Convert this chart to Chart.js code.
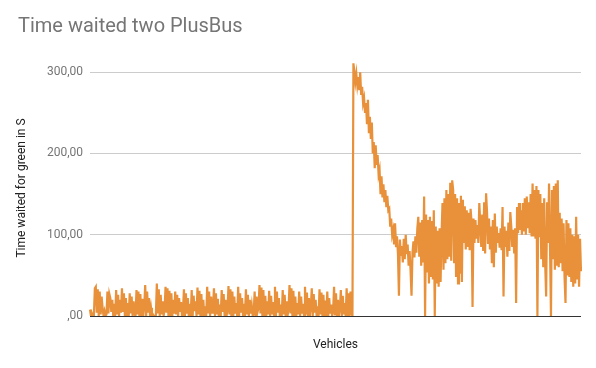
<!DOCTYPE html>
<html lang="en">
<head>
    <meta charset="UTF-8">
    <title>Time waited two PlusBus</title>
    <script src="https://cdn.jsdelivr.net/npm/chart.js@4.4.1/dist/chart.umd.min.js"></script>
    <style>
        body {
            margin: 0;
            background: #fff;
        }
    </style>
</head>
<body>
    <canvas id="waitChart" width="596" height="368"></canvas>

    <script>
        // waiting times (s), in vehicle order
        const lowPhase = [
            8, 0, 3, 0, 0,
            34, 36, 4, 33, 0, 30, 2, 24, 10,
            0, 6, 0, 2,
            30, 3, 27, 22, 5, 20, 0, 15, 0,
            32, 2, 26, 0, 20, 4,
            34, 5, 28, 0, 22, 0, 16, 0,
            28, 3, 24, 0, 18, 2,
            0, 32, 2, 30, 0, 27, 0, 21, 0, 12,
            38, 0, 30, 4, 22, 0, 10,
            0, 2, 0, 0, 1,
            40, 3, 33, 0, 26, 2, 18, 0, 8,
            36, 4, 34, 0, 31, 0, 28, 0, 20, 3,
            30, 2, 26, 0, 22, 5, 17, 0, 6,
            33, 0, 28, 3, 22, 0, 15, 0,
            32, 0, 25, 6, 18, 0,
            35, 2, 31, 0, 27, 0, 20, 0, 12, 0,
            36, 3, 30, 0, 24, 4, 12,
            34, 0, 28, 2, 21, 0, 14, 0,
            32, 5, 27, 0, 20, 0, 8,
            37, 2, 33, 0, 30, 0, 24, 3, 16, 0,
            36, 0, 28, 4, 22, 0, 15, 0,
            33, 2, 26, 0, 20, 3, 13, 0, 2,
            30, 0, 24, 5, 10,
            38, 3, 35, 0, 32, 0, 25, 0, 18, 2,
            31, 0, 25, 2, 17, 0,
            36, 0, 30, 4, 22, 0, 14, 0,
            32, 2, 26, 0, 18, 0, 9,
            38, 3, 34, 0, 31, 0, 24, 0, 16, 2,
            30, 0, 24, 3, 15, 0,
            36, 2, 29, 0, 22, 0, 11,
            34, 0, 27, 4, 20, 0, 12, 0,
            33, 2, 29, 0, 26, 0, 19, 0,
            30, 0, 22, 3, 14, 0, 5,
            36, 2, 28, 0, 20, 0, 9,
            32, 0, 25, 2, 16, 0,
            34, 0, 28, 0, 30, 3, 0
        ];

        const spikeDecay = [
            311, 300, 288, 298, 284, 294, 278, 300, 272, 282,
            262, 268, 250, 262, 236, 266, 225, 245, 218, 238,
            200, 214, 182, 210, 186, 198, 174, 180, 150, 172,
            146, 162, 140, 155, 134, 148, 130, 132, 110, 120,
            100, 106, 88, 114, 86, 98, 76, 25, 94, 74,
            86, 66, 95, 70, 100, 76, 88, 62, 80, 56,
            25, 78, 92, 72, 98, 78, 108
        ];

        const tail = [
            122, 73, 115, 62, 118, 66, 147, 0,
            125, 55, 118, 40, 122, 48, 117, 45,
            130, 0,
            110, 40, 105, 36, 108, 42, 100,
            139, 57, 145, 65, 155, 70, 150, 73, 164, 68, 167,
            155, 65, 150, 48, 145, 40, 139, 52, 148, 42,
            143, 90, 135, 82, 130, 85, 127, 81, 132,
            115, 11, 120, 90,
            118, 95, 112, 90, 139,
            114, 85, 125, 80, 140, 77, 151,
            127, 90, 120, 82, 110, 65, 118, 60, 126, 78,
            110, 90, 102, 84, 108, 81, 134, 24,
            110, 85, 105, 73, 115, 80, 128,
            110, 85, 106, 77, 108, 16,
            134, 102, 139, 106, 130, 100,
            139, 104, 145, 100, 147, 108, 140, 102, 150, 98,
            163, 98, 155, 95, 160, 0,
            155, 97, 150, 70, 139, 60, 145, 65, 24,
            140, 90, 163, 85, 0,
            155, 70, 160, 57, 163, 62, 167, 60,
            127, 65, 120, 55, 114, 48, 16, 118, 50,
            114, 48, 108, 42, 100, 36, 98, 40,
            122, 45, 100, 36, 95, 55
        ];

        const yTicks = [0, 100, 200, 300];

        const waited = [...lowPhase, ...spikeDecay, ...tail];
        const vehicles = waited.map((_, i) => i + 1);

        function formatTick(value) {
            if (value === 0) return ',00';
            return value.toFixed(2).replace('.', ',');
        }

        new Chart(document.getElementById('waitChart'), {
            type: 'line',
            data: {
                labels: vehicles,
                datasets: [{
                    label: 'Time waited',
                    data: waited,
                    borderColor: '#e8913a',
                    borderWidth: 2.2,
                    pointRadius: 0,
                    tension: 0,
                    fill: false
                }]
            },
            options: {
                responsive: false,
                animation: false,
                layout: {
                    padding: { left: 18, right: 15, top: 0, bottom: 0 }
                },
                plugins: {
                    legend: { display: false },
                    tooltip: { enabled: false },
                    title: {
                        display: true,
                        text: 'Time waited two PlusBus',
                        align: 'start',
                        color: '#757575',
                        font: { family: 'Roboto', size: 20, weight: 'normal' },
                        padding: { top: 15, bottom: 21 }
                    }
                },
                scales: {
                    x: {
                        grid: { display: false },
                        border: { display: false },
                        ticks: { display: false },
                        title: {
                            display: true,
                            text: 'Vehicles',
                            color: '#222',
                            font: { family: 'Roboto', size: 12 },
                            padding: { top: 0, bottom: 16 }
                        },
                        afterFit: scale => { scale.height = 52; }
                    },
                    y: {
                        min: 0,
                        max: 315,
                        afterBuildTicks: scale => {
                            scale.ticks = yTicks.map(v => ({ value: v }));
                        },
                        grid: {
                            drawTicks: false,
                            color: ctx => ctx.tick && ctx.tick.value === 0 ? '#333' : '#ccc'
                        },
                        border: { display: false },
                        ticks: {
                            padding: 7,
                            color: '#757575',
                            font: { family: 'Roboto', size: 12 },
                            callback: value => formatTick(value)
                        },
                        title: {
                            display: true,
                            text: 'Time waited for green in S',
                            color: '#222',
                            font: { family: 'Roboto', size: 12 },
                            padding: { top: -3, bottom: 0 }
                        },
                        afterFit: scale => { scale.width = 72; }
                    }
                }
            }
        });
    </script>
</body>
</html>
